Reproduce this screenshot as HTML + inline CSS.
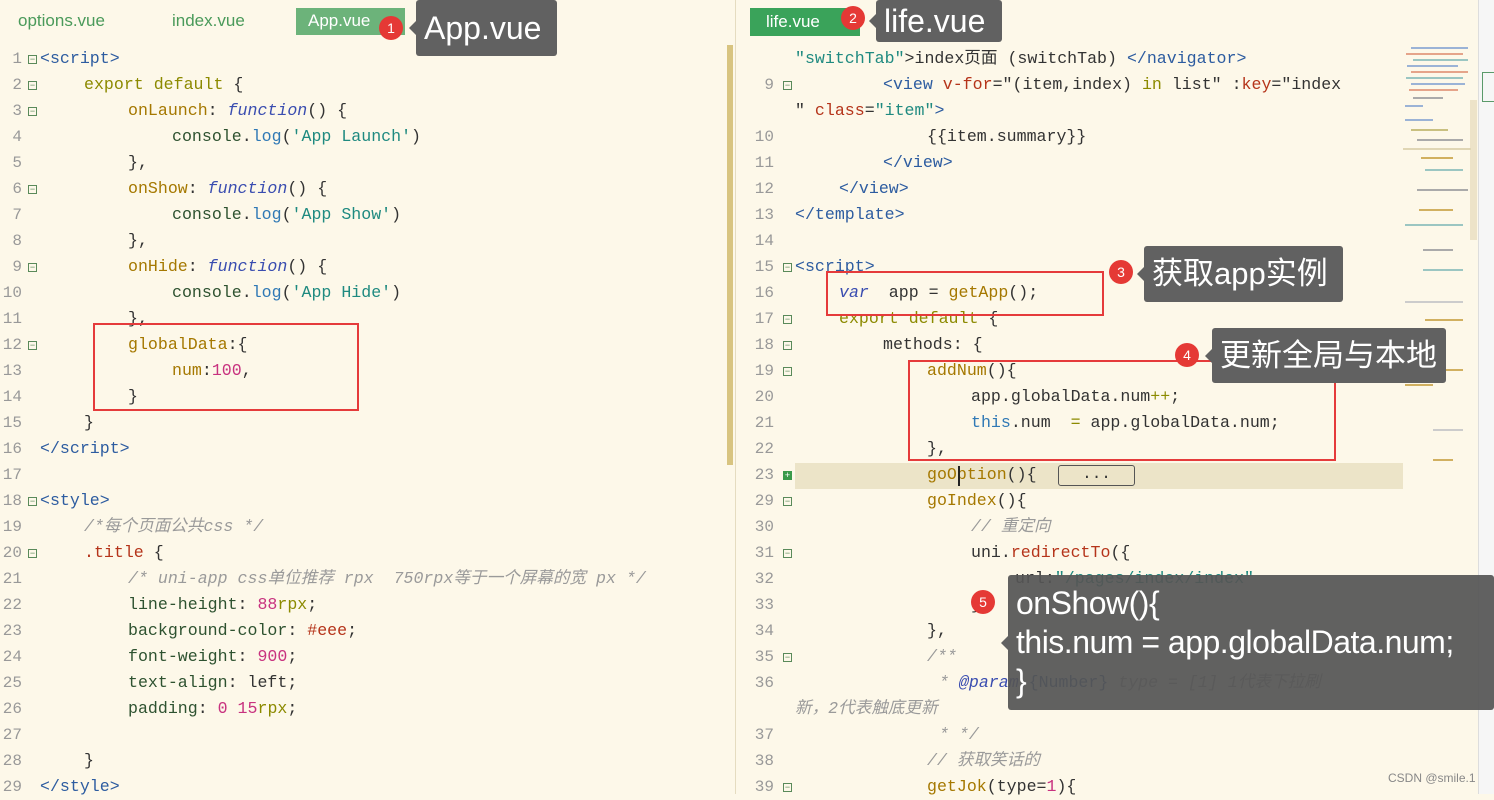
<!DOCTYPE html>
<html><head><meta charset="utf-8"><style>
*{margin:0;padding:0;box-sizing:border-box}
body{width:1494px;height:794px;overflow:hidden;background:#fdf8e9;position:relative;font-family:"Liberation Mono","Noto Sans CJK SC",monospace;font-size:16.6px;color:#333}
.l{position:absolute;height:26px;line-height:26px;white-space:pre}
.n{position:absolute;height:26px;line-height:26px;color:#999;font-size:16px;text-align:right;width:22px}
.f{position:absolute;width:9px;height:9px;border:1px solid #5a8a5a;font-size:9px;line-height:7px;text-align:center;color:#5a8a5a;font-family:"Liberation Sans",sans-serif}
.kw{color:#8c8a00}.pr{color:#a57800}.fn{color:#3a4db0;font-style:italic}.dk{color:#2e5230}.bl{color:#3079b5}.st{color:#1f8a80}.nu{color:#c8327f}
.tg{color:#2d5ca0}.cm{color:#9a9a9a;font-style:italic}.rd{color:#b5341a}.at{color:#b5341a}
.tip{position:absolute;background:#616161;color:#fff;font-family:"Liberation Sans","Noto Sans CJK SC",sans-serif;font-size:31px;border-radius:3px;padding-left:8px;white-space:nowrap}
.tip:before{content:"";position:absolute;left:-7px;top:50%;margin-top:-7px;border-right:7px solid #616161;border-top:7px solid transparent;border-bottom:7px solid transparent}
.c{position:absolute;width:24px;height:24px;border-radius:50%;background:#e53935;color:#fff;font:14px/24px "Liberation Sans",sans-serif;text-align:center}
.box{position:absolute;border:2px solid #e53b3b}
.tab{position:absolute;font-family:"Liberation Sans",sans-serif;font-size:17px;color:#4a9a5a}
</style></head><body>
<div class="tab" style="left:18px;top:11px">options.vue</div>
<div class="tab" style="left:172px;top:11px">index.vue</div>
<div class="tab" style="left:296px;top:8px;width:109px;height:27px;background:#6cb37a;color:#fff;padding:3px 0 0 12px">App.vue</div>
<div class="tab" style="left:750px;top:8px;width:110px;height:28px;background:#3aa35a;color:#fff;padding:4px 0 0 16px">life.vue</div>
<div style="position:absolute;left:727px;top:45px;width:6px;height:420px;background:#d8c480"></div>
<div style="position:absolute;left:735px;top:0;width:1px;height:794px;background:#e5dcc0"></div>
<div style="position:absolute;left:1478px;top:0;width:16px;height:794px;background:#f6f6f6;border-left:1px solid #ddd"></div>
<div style="position:absolute;left:1482px;top:72px;width:12px;height:30px;border:1px solid #5a9a6a;border-right:none"></div>
<div style="position:absolute;left:1470px;top:100px;width:7px;height:140px;background:#ede3c8"></div>
<svg style="position:absolute;left:1403px;top:40px" width="70" height="760">
<g stroke-width="2">
<line x1="8" y1="8" x2="65" y2="8" stroke="#9bb3d6"/><line x1="3" y1="14" x2="60" y2="14" stroke="#e5a48a"/><line x1="10" y1="20" x2="65" y2="20" stroke="#9bc6c2"/><line x1="4" y1="26" x2="55" y2="26" stroke="#9bb3d6"/><line x1="8" y1="32" x2="65" y2="32" stroke="#e5a48a"/><line x1="3" y1="38" x2="60" y2="38" stroke="#9bc6c2"/><line x1="8" y1="44" x2="62" y2="44" stroke="#9bb3d6"/><line x1="6" y1="50" x2="55" y2="50" stroke="#e5a48a"/><line x1="10" y1="58" x2="40" y2="58" stroke="#aaa"/><line x1="2" y1="66" x2="20" y2="66" stroke="#9bb3d6"/>
<line x1="2" y1="80" x2="30" y2="80" stroke="#9bb3d6"/><line x1="8" y1="90" x2="45" y2="90" stroke="#c9c080"/><line x1="14" y1="100" x2="60" y2="100" stroke="#aaa"/><line x1="0" y1="109" x2="68" y2="109" stroke="#e0d6b4"/><line x1="18" y1="118" x2="50" y2="118" stroke="#d1b060"/><line x1="22" y1="130" x2="60" y2="130" stroke="#9bc6c2"/><line x1="14" y1="150" x2="65" y2="150" stroke="#aaa"/><line x1="16" y1="170" x2="50" y2="170" stroke="#d1b060"/><line x1="2" y1="185" x2="60" y2="185" stroke="#9bc6c2"/><line x1="20" y1="210" x2="50" y2="210" stroke="#aaa"/><line x1="20" y1="230" x2="60" y2="230" stroke="#9bc6c2"/><line x1="2" y1="262" x2="60" y2="262" stroke="#ccc"/><line x1="22" y1="280" x2="60" y2="280" stroke="#d1b060"/><line x1="2" y1="300" x2="40" y2="300" stroke="#aaa"/><line x1="30" y1="330" x2="60" y2="330" stroke="#d1b060"/><line x1="2" y1="345" x2="30" y2="345" stroke="#d1b060"/><line x1="30" y1="390" x2="60" y2="390" stroke="#ccc"/><line x1="30" y1="420" x2="50" y2="420" stroke="#d1b060"/>
</g></svg>

<div class="n" style="left:0;top:46px">1</div><div class="f" style="left:28px;top:55px">−</div>
<div class="l tg" style="left:40px;top:46px">&lt;script&gt;</div>
<div class="n" style="left:0;top:72px">2</div><div class="f" style="left:28px;top:81px">−</div>
<div class="l" style="left:84px;top:72px"><span class="kw">export default</span> {</div>
<div class="n" style="left:0;top:98px">3</div><div class="f" style="left:28px;top:107px">−</div>
<div class="l" style="left:128px;top:98px"><span class="pr">onLaunch</span>: <span class="fn">function</span>() {</div>
<div class="n" style="left:0;top:124px">4</div>
<div class="l" style="left:172px;top:124px"><span class="dk">console</span>.<span class="bl">log</span>(<span class="st">'App Launch'</span>)</div>
<div class="n" style="left:0;top:150px">5</div>
<div class="l" style="left:128px;top:150px">},</div>
<div class="n" style="left:0;top:176px">6</div><div class="f" style="left:28px;top:185px">−</div>
<div class="l" style="left:128px;top:176px"><span class="pr">onShow</span>: <span class="fn">function</span>() {</div>
<div class="n" style="left:0;top:202px">7</div>
<div class="l" style="left:172px;top:202px"><span class="dk">console</span>.<span class="bl">log</span>(<span class="st">'App Show'</span>)</div>
<div class="n" style="left:0;top:228px">8</div>
<div class="l" style="left:128px;top:228px">},</div>
<div class="n" style="left:0;top:254px">9</div><div class="f" style="left:28px;top:263px">−</div>
<div class="l" style="left:128px;top:254px"><span class="pr">onHide</span>: <span class="fn">function</span>() {</div>
<div class="n" style="left:0;top:280px">10</div>
<div class="l" style="left:172px;top:280px"><span class="dk">console</span>.<span class="bl">log</span>(<span class="st">'App Hide'</span>)</div>
<div class="n" style="left:0;top:306px">11</div>
<div class="l" style="left:128px;top:306px">},</div>
<div class="n" style="left:0;top:332px">12</div><div class="f" style="left:28px;top:341px">−</div>
<div class="l" style="left:128px;top:332px"><span class="pr">globalData</span>:{</div>
<div class="n" style="left:0;top:358px">13</div>
<div class="l" style="left:172px;top:358px"><span class="pr">num</span>:<span class="nu">100</span>,</div>
<div class="n" style="left:0;top:384px">14</div>
<div class="l" style="left:128px;top:384px">}</div>
<div class="n" style="left:0;top:410px">15</div>
<div class="l" style="left:84px;top:410px">}</div>
<div class="n" style="left:0;top:436px">16</div>
<div class="l tg" style="left:40px;top:436px">&lt;/script&gt;</div>
<div class="n" style="left:0;top:462px">17</div>
<div class="n" style="left:0;top:488px">18</div><div class="f" style="left:28px;top:497px">−</div>
<div class="l tg" style="left:40px;top:488px">&lt;style&gt;</div>
<div class="n" style="left:0;top:514px">19</div>
<div class="l cm" style="left:84px;top:514px">/*每个页面公共css */</div>
<div class="n" style="left:0;top:540px">20</div><div class="f" style="left:28px;top:549px">−</div>
<div class="l" style="left:84px;top:540px"><span class="rd">.title</span> {</div>
<div class="n" style="left:0;top:566px">21</div>
<div class="l cm" style="left:128px;top:566px">/* uni-app css单位推荐 rpx  750rpx等于一个屏幕的宽 px */</div>
<div class="n" style="left:0;top:592px">22</div>
<div class="l" style="left:128px;top:592px"><span class="dk">line-height</span>: <span class="nu">88</span><span class="kw">rpx</span>;</div>
<div class="n" style="left:0;top:618px">23</div>
<div class="l" style="left:128px;top:618px"><span class="dk">background-color</span>: <span class="rd">#eee</span>;</div>
<div class="n" style="left:0;top:644px">24</div>
<div class="l" style="left:128px;top:644px"><span class="dk">font-weight</span>: <span class="nu">900</span>;</div>
<div class="n" style="left:0;top:670px">25</div>
<div class="l" style="left:128px;top:670px"><span class="dk">text-align</span>: left;</div>
<div class="n" style="left:0;top:696px">26</div>
<div class="l" style="left:128px;top:696px"><span class="dk">padding</span>: <span class="nu">0 15</span><span class="kw">rpx</span>;</div>
<div class="n" style="left:0;top:722px">27</div>
<div class="n" style="left:0;top:748px">28</div>
<div class="l" style="left:84px;top:748px">}</div>
<div class="n" style="left:0;top:774px">29</div>
<div class="l tg" style="left:40px;top:774px">&lt;/style&gt;</div>

<div style="position:absolute;left:795px;top:463px;width:608px;height:26px;background:#ece4c8"></div>
<div class="l" style="left:795px;top:46px"><span class="st">"switchTab"</span>&gt;index页面 (switchTab) <span class="tg">&lt;/navigator&gt;</span></div>
<div class="n" style="left:752px;top:72px">9</div><div class="f" style="left:783px;top:81px">−</div>
<div class="l" style="left:883px;top:72px"><span class="tg">&lt;view</span> <span class="at">v-for</span>=<span>"(item,index) </span><span class="kw">in</span> list" :<span class="at">key</span>="index</div>
<div class="l" style="left:795px;top:98px">" <span class="at">class</span>=<span class="st">"item"</span><span class="tg">&gt;</span></div>
<div class="n" style="left:752px;top:124px">10</div>
<div class="l" style="left:927px;top:124px">{{item.summary}}</div>
<div class="n" style="left:752px;top:150px">11</div>
<div class="l tg" style="left:883px;top:150px">&lt;/view&gt;</div>
<div class="n" style="left:752px;top:176px">12</div>
<div class="l tg" style="left:839px;top:176px">&lt;/view&gt;</div>
<div class="n" style="left:752px;top:202px">13</div>
<div class="l tg" style="left:795px;top:202px">&lt;/template&gt;</div>
<div class="n" style="left:752px;top:228px">14</div>
<div class="n" style="left:752px;top:254px">15</div><div class="f" style="left:783px;top:263px">−</div>
<div class="l tg" style="left:795px;top:254px">&lt;script&gt;</div>
<div class="n" style="left:752px;top:280px">16</div>
<div class="l" style="left:839px;top:280px"><span class="fn">var</span>  app = <span class="pr">getApp</span>();</div>
<div class="n" style="left:752px;top:306px">17</div><div class="f" style="left:783px;top:315px">−</div>
<div class="l" style="left:839px;top:306px"><span class="kw">export default</span> {</div>
<div class="n" style="left:752px;top:332px">18</div><div class="f" style="left:783px;top:341px">−</div>
<div class="l" style="left:883px;top:332px">methods: {</div>
<div class="n" style="left:752px;top:358px">19</div><div class="f" style="left:783px;top:367px">−</div>
<div class="l" style="left:927px;top:358px"><span class="pr">addNum</span>(){</div>
<div class="n" style="left:752px;top:384px">20</div>
<div class="l" style="left:971px;top:384px">app.globalData.num<span class="kw">++</span>;</div>
<div class="n" style="left:752px;top:410px">21</div>
<div class="l" style="left:971px;top:410px"><span class="bl">this</span>.num  <span class="kw">=</span> app.globalData.num;</div>
<div class="n" style="left:752px;top:436px">22</div>
<div class="l" style="left:927px;top:436px">},</div>
<div class="n" style="left:752px;top:462px">23</div><div class="f" style="left:783px;top:471px;background:#3a9a4a;color:#fff;border-color:#3a9a4a">+</div>
<div class="l" style="left:927px;top:462px"><span class="pr">goOption</span>(){</div>
<div style="position:absolute;left:958px;top:466px;width:2px;height:20px;background:#222"></div>
<div style="position:absolute;left:1058px;top:465px;width:77px;height:21px;border:1px solid #555;border-radius:3px;text-align:center;line-height:16px;font-size:16px">...</div>
<div class="n" style="left:752px;top:488px">29</div><div class="f" style="left:783px;top:497px">−</div>
<div class="l" style="left:927px;top:488px"><span class="pr">goIndex</span>(){</div>
<div class="n" style="left:752px;top:514px">30</div>
<div class="l cm" style="left:971px;top:514px">// 重定向</div>
<div class="n" style="left:752px;top:540px">31</div><div class="f" style="left:783px;top:549px">−</div>
<div class="l" style="left:971px;top:540px">uni.<span class="rd">redirectTo</span>({</div>
<div class="n" style="left:752px;top:566px">32</div>
<div class="l" style="left:1015px;top:566px">url:<span class="st">"/pages/index/index"</span></div>
<div class="n" style="left:752px;top:592px">33</div>
<div class="l" style="left:971px;top:592px">})</div>
<div class="n" style="left:752px;top:618px">34</div>
<div class="l" style="left:927px;top:618px">},</div>
<div class="n" style="left:752px;top:644px">35</div><div class="f" style="left:783px;top:653px">−</div>
<div class="l cm" style="left:927px;top:644px">/**</div>
<div class="n" style="left:752px;top:670px">36</div>
<div class="l cm" style="left:939px;top:670px">* <span style="color:#3a4db0">@param</span> <span style="color:#2d5ca0;font-style:normal">{Number}</span> type = [1] 1代表下拉刷</div>
<div class="l cm" style="left:795px;top:696px">新，2代表触底更新</div>
<div class="n" style="left:752px;top:722px">37</div>
<div class="l cm" style="left:939px;top:722px">* */</div>
<div class="n" style="left:752px;top:748px">38</div>
<div class="l cm" style="left:927px;top:748px">// 获取笑话的</div>
<div class="n" style="left:752px;top:774px">39</div><div class="f" style="left:783px;top:783px">−</div>
<div class="l" style="left:927px;top:774px"><span class="pr">getJok</span>(type=<span class="nu">1</span>){</div>
<div style="position:absolute;left:1388px;top:771px;font:12px 'Liberation Sans',sans-serif;color:#888">CSDN @smile.1</div>

<div class="box" style="left:93px;top:323px;width:266px;height:88px"></div>
<div class="box" style="left:826px;top:271px;width:278px;height:45px"></div>
<div class="box" style="left:908px;top:360px;width:428px;height:101px"></div>

<div class="tip" style="left:416px;top:0;width:141px;height:56px;line-height:56px;font-size:32px">App.vue</div>
<div class="tip" style="left:876px;top:0;width:126px;height:42px;line-height:42px;font-size:32px">life.vue</div>
<div class="tip" style="left:1144px;top:246px;width:199px;height:56px;line-height:56px">获取app实例</div>
<div class="tip" style="left:1212px;top:328px;width:234px;height:55px;line-height:55px">更新全局与本地</div>
<div class="tip" style="left:1008px;top:575px;width:486px;height:135px;background:rgba(85,85,85,0.93);line-height:39px;padding-top:9px;font-size:32px;letter-spacing:-0.5px">onShow(){<br>this.num = app.globalData.num;<br>}</div>
<div class="c" style="left:379px;top:16px">1</div>
<div class="c" style="left:841px;top:6px">2</div>
<div class="c" style="left:1109px;top:260px">3</div>
<div class="c" style="left:1175px;top:343px">4</div>
<div class="c" style="left:971px;top:590px">5</div>
</body></html>
